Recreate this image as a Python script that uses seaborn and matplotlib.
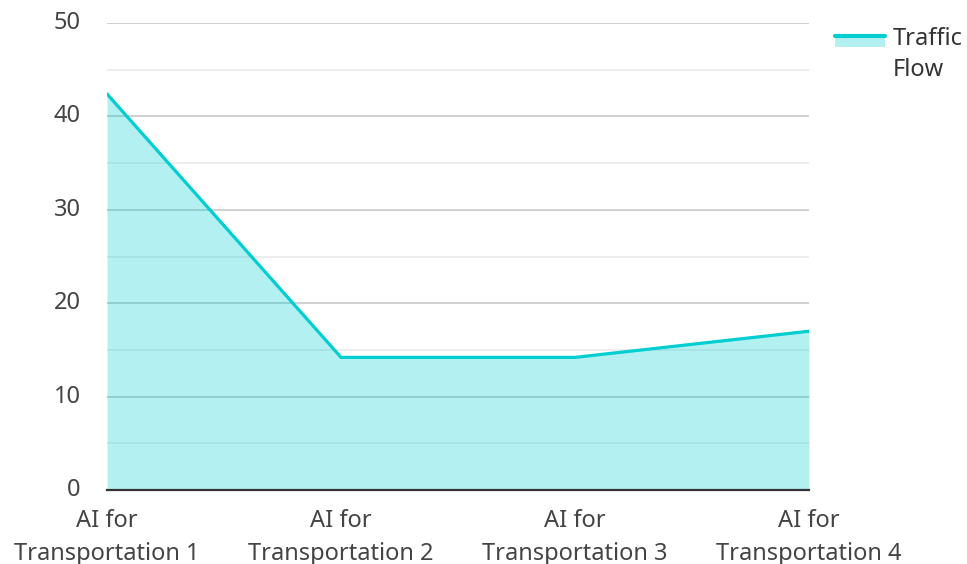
import numpy as np
import pandas as pd
import matplotlib
matplotlib.use("Agg")
import matplotlib.pyplot as plt
import seaborn as sns
from matplotlib.legend_handler import HandlerBase
from matplotlib.patches import Rectangle
from matplotlib.lines import Line2D

# Data
categories = ["AI for\nTransportation 1", "AI for\nTransportation 2",
              "AI for\nTransportation 3", "AI for\nTransportation 4"]
traffic_flow = [42.4, 14.2, 14.2, 17.0]
series_name = "Traffic\nFlow"

line_color = "#00CED1"
fs = 17

sns.set_style("white")
plt.rcParams["font.family"] = ["Noto Sans", "DejaVu Sans"]

df = pd.DataFrame({"x": np.arange(len(categories)), "y": traffic_flow})

fig = plt.figure(figsize=(9.67, 5.64), dpi=100)
ax = fig.add_axes([0.1107, 0.1312, 0.7259, 0.828])

ax.fill_between(df["x"], df["y"], 0, color=line_color, alpha=0.3, lw=0, zorder=2)
sns.lineplot(data=df, x="x", y="y", ax=ax, color=line_color, lw=2.3, zorder=3)

ax.set_xlim(0, len(categories) - 1)
ax.set_ylim(0, 50)
ax.set_yticks(range(0, 51, 10))
ax.set_yticks(range(5, 50, 10), minor=True)
ax.set_xticks(df["x"])
ax.set_xticklabels(categories, linespacing=1.5)
ax.grid(axis="y", which="major", color="#c4c4c4", lw=1.1, zorder=1)
ax.grid(axis="y", which="minor", color="#e8e8e8", lw=1.1, zorder=1)
ax.set_axisbelow(True)
ax.set_xlabel("")
ax.set_ylabel("")
for s in ["top", "right", "left"]:
    ax.spines[s].set_visible(False)
ax.spines["bottom"].set_color("#333333")
ax.spines["bottom"].set_linewidth(1.6)
ax.spines["bottom"].set_zorder(4)
ax.tick_params(axis="both", which="both", length=0, labelsize=fs,
               labelcolor="#444444")
ax.tick_params(axis="y", pad=19)
ax.tick_params(axis="x", pad=13.5)
for lbl in ax.get_yticklabels():
    lbl.set_verticalalignment("center")


class AreaHandler(HandlerBase):
    def create_artists(self, legend, orig, xd, yd, w, h, fontsize, trans):
        top = -yd + h - 2.2
        rect = Rectangle((-xd, top - 8), w, 8, facecolor=line_color,
                         alpha=0.3, lw=0, transform=trans)
        ln = Line2D([-xd, -xd + w], [top, top],
                    color=line_color, lw=3, transform=trans)
        return [rect, ln]


handle = Rectangle((0, 0), 1, 1)
leg = ax.legend([handle], [series_name], handler_map={Rectangle: AreaHandler()},
                loc="upper left", bbox_to_anchor=(1.037, 0.992), frameon=False,
                fontsize=fs, handlelength=2.1, handleheight=2.6,
                handletextpad=0.35, borderpad=0, borderaxespad=0,
                labelcolor="#333333")
for t in leg.get_texts():
    t.set_linespacing(1.38)

fig.savefig("out.png", dpi=100)
